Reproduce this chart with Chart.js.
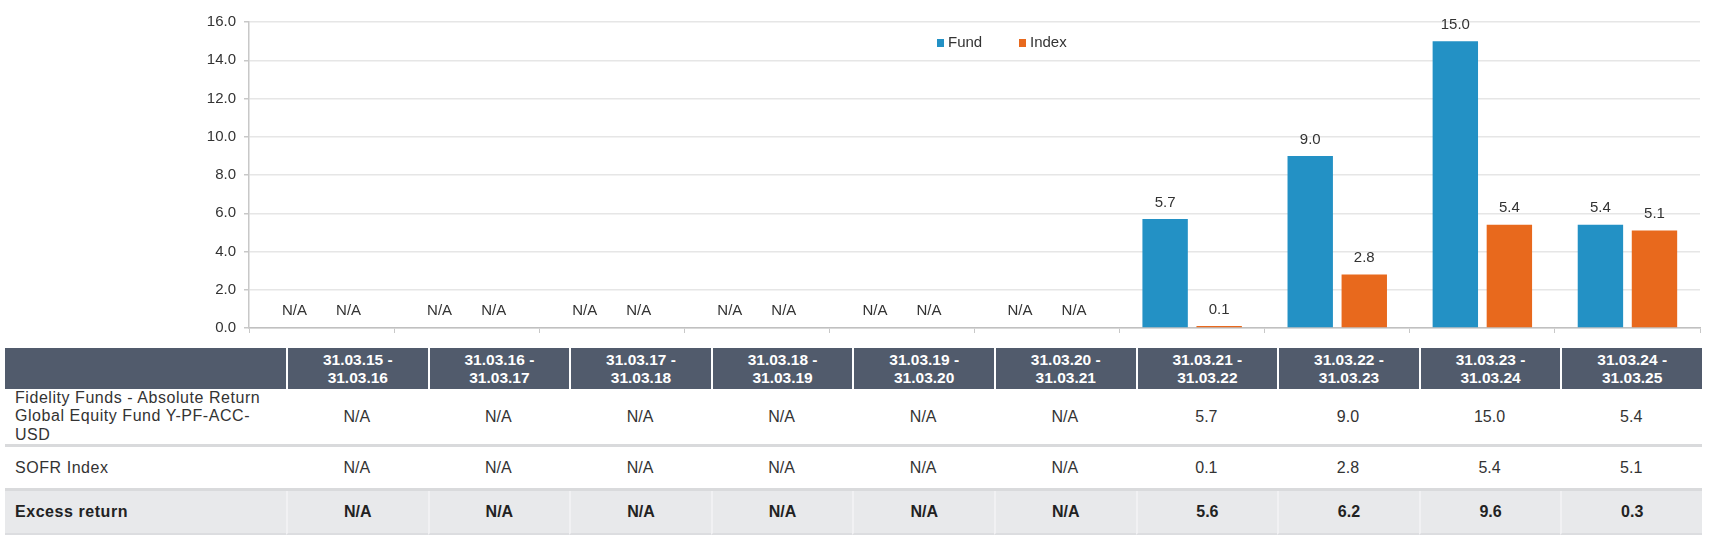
<!DOCTYPE html>
<html lang="en">
<head>
<meta charset="utf-8">
<title>Fund vs Index - discrete annual performance</title>
<script src="https://cdn.jsdelivr.net/npm/chart.js@4.4.1/dist/chart.umd.min.js"></script>
<style>
  body { margin: 0; background: #fff; font-family: Arial, "Liberation Sans", sans-serif; }
  #chartBox { position: relative; width: 1710px; height: 345px; }
  #perfTable { margin: 3px 0 0 5px; width: 1697px; table-layout: fixed; border-collapse: separate; border-spacing: 0; color: #333; font-size: 16px; }
  #perfTable th { background: #515b6c; color: #fff; font-size: 15.5px; font-weight: bold; line-height: 18px; height: 41px; padding: 0; text-align: center; }
  #perfTable th + th { border-left: 2px solid #fff; }
  #perfTable td { padding: 0; text-align: center; }
  #perfTable td.name { text-align: left; padding-left: 10px; padding-right: 20px; letter-spacing: 0.55px; }
  #perfTable tr.fund td { height: 55px; border-bottom: 3px solid #d9dadc; }
  #perfTable tr.fund td.name div { height: 55px; display: flex; align-items: center; line-height: 18.5px; }
  #perfTable tr.index td { height: 41px; border-bottom: 3px solid #d9dadc; }
  #perfTable tr.excess td { height: 42px; background: #e8e9eb; font-weight: bold; color: #222; border-bottom: 2px solid #dcdde0; }
  #perfTable tr.excess td + td { border-left: 2px solid #f1f1f3; }
</style>
</head>
<body>
<div id="chartBox"><canvas id="perfChart"></canvas></div>
<table id="perfTable"></table>

<script>
// periods shown on the category axis / table header
const periods = [
  '31.03.15 - 31.03.16', '31.03.16 - 31.03.17', '31.03.17 - 31.03.18',
  '31.03.18 - 31.03.19', '31.03.19 - 31.03.20', '31.03.20 - 31.03.21',
  '31.03.21 - 31.03.22', '31.03.22 - 31.03.23', '31.03.23 - 31.03.24',
  '31.03.24 - 31.03.25'
];
const seriesNames = ['Fund', 'Index'];
const fundReturns = [null, null, null, null, null, null, 5.7, 9.0, 15.0, 5.4];
const indexReturns = [null, null, null, null, null, null, 0.1, 2.8, 5.4, 5.1];
const excessReturns = [null, null, null, null, null, null, 5.6, 6.2, 9.6, 0.3];
const rowNames = ['Fidelity Funds - Absolute Return Global Equity Fund Y-PF-ACC-USD', 'SOFR Index', 'Excess return'];
const yTicks = [0, 2, 4, 6, 8, 10, 12, 14, 16];

const FONT = 'Arial, "Liberation Sans", sans-serif';
const fmt = v => (v === null ? 'N/A' : v.toFixed(1));

// value / N/A labels above each bar
const valueLabels = {
    id: 'valueLabels',
    afterDatasetsDraw(chart) {
        const ctx = chart.ctx;
        const base = chart.scales.y.getPixelForValue(0);
        ctx.save();
        ctx.font = '15px ' + FONT;
        ctx.fillStyle = '#333';
        ctx.textAlign = 'center';
        ctx.textBaseline = 'middle';
        chart.data.datasets.forEach((ds, di) => {
            chart.getDatasetMeta(di).data.forEach((bar, i) => {
                const v = ds.data[i];
                if (v === null) ctx.fillText('N/A', bar.x, base - 17.5);
                else ctx.fillText(fmt(v), bar.x, bar.y - 16.5);
            });
        });
        ctx.restore();
    }
};

// small legend sitting inside the plot, near the top
const topLegend = {
    id: 'topLegend',
    afterDraw(chart) {
        const ctx = chart.ctx;
        let x = 937;
        const y = 43;
        ctx.save();
        ctx.font = '15px ' + FONT;
        ctx.textBaseline = 'middle';
        ctx.textAlign = 'left';
        chart.data.datasets.forEach(ds => {
            ctx.fillStyle = ds.backgroundColor;
            ctx.fillRect(x, y - 4, 7, 8);
            ctx.fillStyle = '#333';
            ctx.fillText(ds.label, x + 11, y);
            x += 82;
        });
        ctx.restore();
    }
};

new Chart(document.getElementById('perfChart'), {
    type: 'bar',
    data: {
        labels: periods,
        datasets: [
            { label: seriesNames[0], data: fundReturns, backgroundColor: '#2391c5' },
            { label: seriesNames[1], data: indexReturns, backgroundColor: '#e8691d' }
        ]
    },
    options: {
        responsive: true,
        maintainAspectRatio: false,
        animation: false,
        layout: { padding: { top: 22, right: 10, left: 0, bottom: 0 } },
        datasets: { bar: { barPercentage: 0.84, categoryPercentage: 0.745 } },
        plugins: { legend: { display: false }, tooltip: { enabled: false } },
        scales: {
            x: {
                offset: true,
                ticks: { display: false },
                grid: { drawOnChartArea: false, tickLength: 5, color: '#c8c8c8', offset: true },
                border: { color: '#c0c0c0', width: 1.5 },
                afterFit: s => { s.height = 14; }
            },
            y: {
                min: yTicks[0],
                max: yTicks[yTicks.length - 1],
                afterBuildTicks: s => { s.ticks = yTicks.map(v => ({ value: v })); },
                ticks: { callback: v => v.toFixed(1), color: '#333', font: { size: 15, family: FONT }, padding: 8 },
                grid: { color: '#e6e6e6', lineWidth: 1.5, tickLength: 5, tickColor: '#c8c8c8' },
                border: { color: '#c8c8c8', width: 1.5 },
                afterFit: s => { s.width = 249; }
            }
        }
    },
    plugins: [valueLabels, topLegend]
});

// table under the chart
const table = document.getElementById('perfTable');
let html = '<colgroup><col style="width:281px">' + periods.map(() => '<col>').join('') + '</colgroup>';
html += '<thead><tr><th></th>' + periods.map(p => {
    const [a, b] = p.split(' - ');
    return '<th>' + a + ' -<br>' + b + '</th>';
}).join('') + '</tr></thead><tbody>';
const rows = [fundReturns, indexReturns, excessReturns];
const rowClass = ['fund', 'index', 'excess'];
rows.forEach((vals, r) => {
    const name = r === 0 ? '<div>' + rowNames[r] + '</div>' : rowNames[r];
    html += '<tr class="' + rowClass[r] + '"><td class="name">' + name + '</td>' +
        vals.map(v => '<td>' + fmt(v) + '</td>').join('') + '</tr>';
});
html += '</tbody>';
table.innerHTML = html;
</script>
</body>
</html>
